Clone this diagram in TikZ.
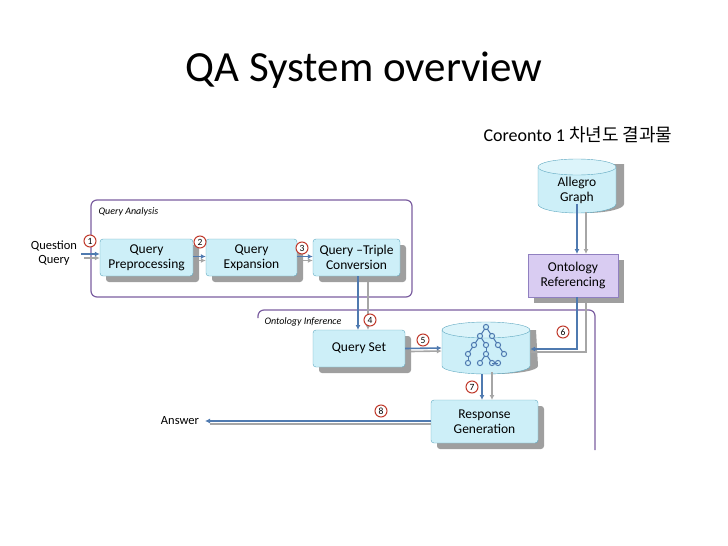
\documentclass[tikz,border=0pt]{standalone}
\usepackage{fontspec}
\setmainfont{Carlito}
\newfontfamily\cjk{Noto Sans CJK KR}
\usetikzlibrary{arrows.meta,shadows,calc}
\definecolor{bfill}{HTML}{CDEFF8}
\definecolor{bdraw}{HTML}{5FA8C0}
\definecolor{pfill}{HTML}{D9CCF2}
\definecolor{pdraw}{HTML}{9080C0}
\definecolor{grp}{HTML}{7B5EA0}
\definecolor{arr}{HTML}{4F7AB0}
\definecolor{numc}{HTML}{C0392B}
\begin{document}
\begin{tikzpicture}[x=1pt,y=-1pt,
  box/.style={draw=bdraw,fill=bfill,rounded corners=3pt,align=center,font=\fontsize{13.5}{15}\selectfont,inner sep=0pt,
    drop shadow={shadow xshift=6pt,shadow yshift=-6pt,fill=gray!75,opacity=1}},
  pbox/.style={box,draw=pdraw,fill=pfill,rounded corners=0pt},
  grpbox/.style={draw=grp,line width=1.2pt,rounded corners=6pt},
  blab/.style={font=\itshape\fontsize{10}{11}\selectfont,anchor=west},
  num/.style={circle,draw=numc,line width=1pt,fill=white,inner sep=0pt,minimum size=12pt,font=\fontsize{9.5}{9.5}\selectfont},
  ar/.style={draw=arr,line width=1.6pt,-{Latex[length=5pt,width=5pt]}},
  sh/.style={draw=gray!70,line width=1.6pt,-{Latex[length=5pt,width=5pt]}},
  cylr/.style={inner sep=0pt}
]
\useasboundingbox (0,0) rectangle (728,546);
\node[font=\fontsize{43}{48}\selectfont] (title) at (364,70) {QA System overview};
\node[font=\fontsize{18}{20}\selectfont,anchor=west] (core) at (480,135) {Coreonto 1 {\cjk 차년도 결과물}};

% groups
\draw[grpbox] (91,200) rectangle (412,297);
\node[blab] (qa) at (95,212) {Query Analysis};
\draw[grpbox] (258,318) -- (258,310) -- (595,310) -- (595,450);
\node[blab] (oi) at (261,322) {Ontology Inference};

% boxes
\node[box,minimum width=93pt,minimum height=37pt] (pre) at (146.5,257.5) {Query\\Preprocessing};
\node[box,minimum width=91pt,minimum height=37pt] (exp) at (251.5,257.5) {Query\\Expansion};
\node[box,minimum width=87pt,minimum height=37pt] (conv) at (356.5,257.5) {Query --Triple\\Conversion};
\node[box,minimum width=92pt,minimum height=37pt] (qset) at (359,348.5) {Query Set};
\node[box,minimum width=107pt,minimum height=43pt] (resp) at (484.5,421.5) {Response\\Generation};
\node[pbox,minimum width=90pt,minimum height=43pt] (onto) at (573,275.5) {Ontology\\Referencing};

% Allegro cylinder
\node[cylr,minimum width=78pt,minimum height=55pt] (ag) at (577,186) {};
\fill[gray!75] (546,164) -- (546,204) arc[start angle=180,end angle=0,x radius=39,y radius=9] -- (624,164) -- cycle;
\draw[bdraw,fill=bfill] (538,167) -- (538,204) arc[start angle=180,end angle=0,x radius=39,y radius=9] -- (616,167);
\draw[bdraw,fill=bfill!70!white] (577,167) ellipse[x radius=39,y radius=8];
\node[font=\fontsize{13.5}{15}\selectfont,align=center] (agt) at (577,190) {Allegro\\Graph};

% tree cylinder
\node[cylr,minimum width=88pt,minimum height=52pt] (tree) at (486,348) {};
\fill[gray!75] (450,330) -- (450,366) arc[start angle=180,end angle=0,x radius=44,y radius=8] -- (536,330) -- cycle;
\draw[bdraw,fill=bfill] (442,330) -- (442,366) arc[start angle=180,end angle=0,x radius=44,y radius=8] -- (530,330);
\draw[bdraw,fill=bfill!70!white] (486,330) ellipse[x radius=44,y radius=8];
\begin{scope}[draw=arr,line width=1pt]
 \foreach \a/\b in {{486,327}/{480,336},{486,327}/{492,336},{480,336}/{474,345},{480,336}/{486,345},{492,336}/{498,345},{474,345}/{468,354},{486,345}/{486,354},{486,354}/{480,363},{486,354}/{492,363},{498,345}/{504,354},{468,354}/{468,363}}
   \draw (\a) -- (\b);
 \foreach \p in {{486,327},{480,336},{492,336},{474,345},{486,345},{498,345},{468,354},{486,354},{504,354},{480,363},{492,363},{468,363},{498,363}}
   \draw[fill=bfill] (\p) circle[radius=2.6];
 \draw (492,363) -- (498,363);
\end{scope}

% text nodes
\node[font=\fontsize{12.5}{14}\selectfont,align=center] (qq) at (54,253) {Question\\Query};
\node[font=\fontsize{12.5}{14}\selectfont] (ans) at (180,421) {Answer};
\coordinate (ansE) at (205,421);

% arrows (shadow then blue)
\draw[sh] (84,258) -- (pre.west|-0,258);
\draw[ar] (81,254) -- (pre.west|-0,254);
\draw[sh] ($(pre.east)+(6,3)$) -- ($(exp.west)+(0,3)$);
\draw[ar] ($(pre.east)+(0,-1)$) -- ($(exp.west)+(0,-1)$);
\draw[sh] ($(exp.east)+(6,3)$) -- ($(conv.west)+(0,3)$);
\draw[ar] ($(exp.east)+(0,-1)$) -- ($(conv.west)+(0,-1)$);
\draw[sh] (368,282) -- (368,330);
\draw[ar] (358,276) -- (358,330);
\draw[sh] ($(qset.east)+(6,3)$) -- ($(tree.west)+(0,3)$);
\draw[ar] ($(qset.east)+(0,0)$) -- ($(tree.west)+(0,0)$);
\draw[sh] (586,212) -- (586,254);
\draw[ar] (577,204) -- (577,254);
\draw[sh,-] (586,303) -- (586,352) -- (530,352);
\draw[ar] (577,297) -- (577,349) -- (tree.east|-0,349);
\draw[sh] (492,372) -- (492,400);
\draw[ar] (482,374) -- (482,400);
\draw[draw=gray!70,line width=1.6pt] (resp.west|-0,424) -- (210,424);
\draw[ar] (resp.west|-0,421) -- (ansE);

% numbers
\node[num] (n1) at (90,241) {1};
\node[num] (n2) at (200,242) {2};
\node[num] (n3) at (302,248) {3};
\node[num] (n4) at (370,320) {4};
\node[num] (n5) at (423,340) {5};
\node[num] (n6) at (563,332) {6};
\node[num] (n7) at (472,387) {7};
\node[num] (n8) at (381,411) {8};
\end{tikzpicture}
\end{document}
